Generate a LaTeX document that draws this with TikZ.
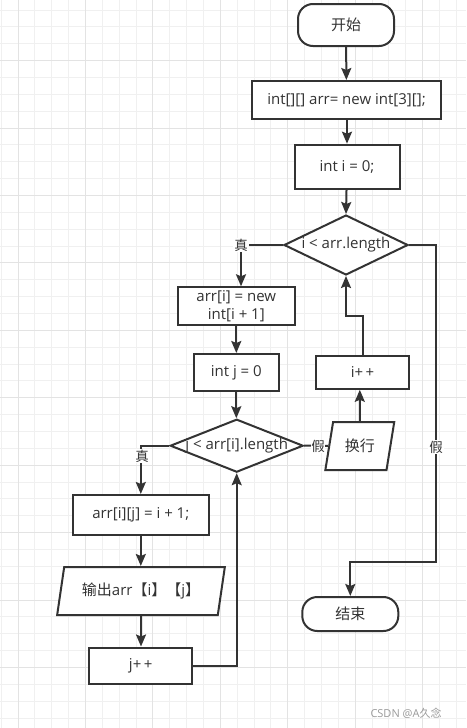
\documentclass[tikz,border=0pt]{standalone}
\usepackage{fontspec}
\setmainfont{Open Sans}
\newfontfamily\cjk{Noto Sans CJK SC}
\usetikzlibrary{shapes.geometric,arrows.meta}
\definecolor{ln}{HTML}{333333}
\definecolor{gminor}{HTML}{F0F0F0}
\definecolor{gmajor}{HTML}{E3E3E3}
\definecolor{wmc}{HTML}{9A9A9A}
\tikzset{
  base/.style={draw=ln, line width=2pt, fill=white, text=ln, inner sep=0pt,
    font=\fontsize{15}{18}\selectfont, align=center},
  term/.style={base, rectangle, rounded corners=15pt},
  proc/.style={base, rectangle},
  dec/.style={base, diamond},
  io/.style={base, trapezium, trapezium stretches=true},
  txt/.style={text=ln, inner sep=0pt, font=\fontsize{15}{18}\selectfont},
  lab/.style={fill=white, text=ln, inner sep=1pt, font=\cjk\fontsize{13.5}{16}\selectfont},
  conn/.style={draw=ln, line width=2pt},
  arr/.style={conn, -{Stealth[length=12pt,width=10pt,inset=2pt]}},
}
\begin{document}
\begin{tikzpicture}[x=1pt,y=-1pt]
\useasboundingbox (0,0) rectangle (466,728);
\fill[white] (0,0) rectangle (466,728);
% grid
\foreach \i in {0,...,27}{
  \pgfmathsetmacro\xx{1.2+16.86*\i}
  \draw[gminor, line width=1pt] (\xx,0) -- (\xx,728);
}
\foreach \i in {0,...,42}{
  \pgfmathsetmacro\yy{10+16.86*\i}
  \draw[gminor, line width=1pt] (0,\yy) -- (466,\yy);
}
\foreach \i in {0,...,6}{
  \pgfmathsetmacro\xx{18.06+67.44*\i}
  \draw[gmajor, line width=1pt] (\xx,0) -- (\xx,728);
}
\foreach \i in {0,...,9}{
  \pgfmathsetmacro\yy{60.58+67.44*\i}
  \draw[gmajor, line width=1pt] (0,\yy) -- (466,\yy);
}

% nodes
\node[term, minimum width=96pt, minimum height=42pt] (start) at (346,25) {\cjk 开始};
\node[proc, minimum width=189pt, minimum height=38pt] (b1) at (346.5,100) {int[][] arr= new int[3][];};
\node[proc, minimum width=105pt, minimum height=44pt] (b2) at (347,166.7) {int i = 0;};
\node[dec, minimum width=124pt, minimum height=60pt] (d1) at (346,245) {};
\node[txt] (d1t) at (d1) {i < arr.length};
\node[proc, minimum width=117pt, minimum height=38pt] (b3) at (236.3,306.3) {arr[i] = new\\int[i + 1]};
\node[proc, minimum width=85pt, minimum height=37pt] (b4) at (236.3,372.5) {int j = 0};
\node[dec, minimum width=133pt, minimum height=53pt] (d2) at (236.7,445.7) {};
\node[txt] (d2t) at (d2) {j < arr[i].length};
\node[proc, minimum width=93pt, minimum height=33pt] (ipp) at (362.5,372.3) {i+\,+};
\node[io, minimum width=69pt, minimum height=48pt, trapezium left angle=72.6, trapezium right angle=107.4] (p1) at (359.8,446) {\cjk 换行};
\node[proc, minimum width=136pt, minimum height=40pt] (b5) at (140.8,515) {arr[i][j] = i + 1;};
\node[io, minimum width=168pt, minimum height=48pt, trapezium left angle=71.6, trapezium right angle=108.4] (p2) at (141,591) {{\cjk 输出}arr{\cjk 【}i{\cjk 】【}j{\cjk 】}};
\node[proc, minimum width=103pt, minimum height=36pt] (b6) at (140.7,665.5) {j+\,+};
\node[term, minimum width=96pt, minimum height=34pt] (end) at (350.3,614) {\cjk 结束};

\coordinate (c1) at (362.5,316);
\coordinate (r1) at (436,245);
\coordinate (r2) at (436,562);

% connectors
\draw[arr] (start) -- (b1);
\draw[arr] (b1.south -| b2.north) -- (b2.north);
\draw[arr] (b2) -- (d1.north);
\node[lab] (t1) at (241,245) {真};
\draw[conn] (d1.west) -- (t1);
\draw[arr] (t1) -- (t1 |- b3.north);
\draw[arr] (b3.south) -- (b3.south |- b4.north);
\draw[arr] (b4.south) -- (b4.south |- d2.north);
\draw[arr] (d2.west) -| (b5.north);
\node[lab] (t2) at (142,456) {真};
\draw[conn] (d2.east) -- (p1);
\node[lab, inner sep=0.5pt] (f1) at (318,446.5) {假};
\draw[arr] (p1) -- (p1 |- ipp.south);
\draw[arr] (ipp.north) -- (ipp.north |- c1) -| (d1.south);
\draw[arr] (d1.east) -- (r1) -- (r2) -| (end.north);
\node[lab] (f2) at (436,447) {假};
\draw[arr] (b5) -- (b5 |- p2.north);
\draw[arr] (p2) -- (p2 |- b6.north);
\draw[arr] (b6.east) -| (d2.south);

\node[text=wmc, inner sep=0pt, font=\fontsize{11}{13}\selectfont] (wm) at (406,713) {CSDN @A{\cjk 久念}};
\end{tikzpicture}
\end{document}
